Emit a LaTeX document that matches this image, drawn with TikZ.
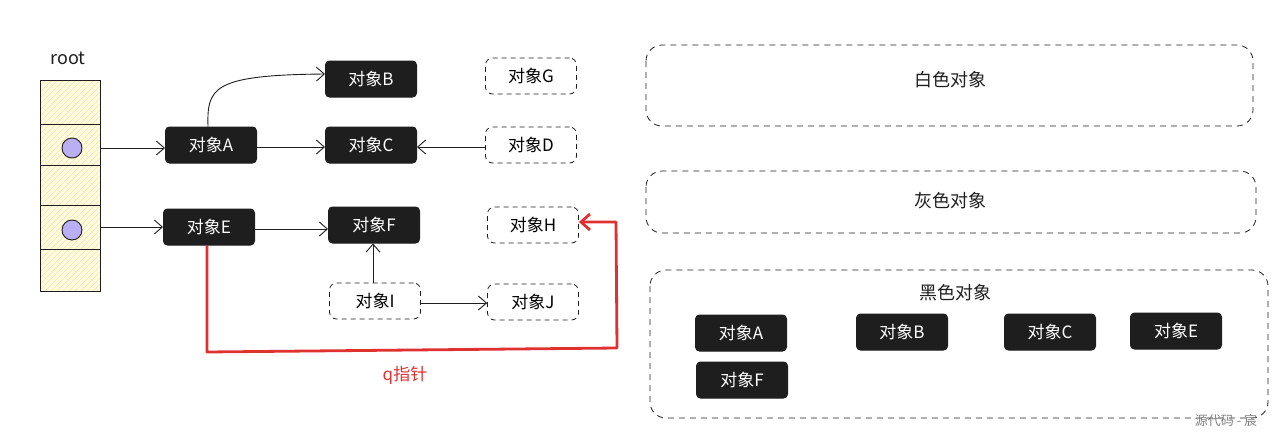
\documentclass[tikz,border=0pt]{standalone}
\usepackage{fontspec}
\setmainfont{Noto Sans CJK SC}
\usetikzlibrary{arrows.meta,patterns}
\definecolor{ink}{HTML}{1E1E1E}
\definecolor{redline}{HTML}{E03131}
\definecolor{rootfill}{HTML}{FFFAE0}
\definecolor{hatch}{HTML}{F8E7A0}
\definecolor{dot}{HTML}{B9AFF2}
\tikzset{
  blk/.style={draw=ink,fill=ink,rounded corners=4pt,text=white,minimum width=91pt,minimum height=36pt,font=\fontsize{17}{17}\selectfont,line width=1pt},
  dsh/.style={draw=ink,dashed,dash pattern=on 5pt off 4pt,rounded corners=7pt,minimum width=91pt,minimum height=36pt,font=\fontsize{17}{17}\selectfont,line width=0.8pt},
  panel/.style={draw=ink,dashed,dash pattern=on 6pt off 5pt,rounded corners=16pt,line width=0.8pt},
  conn/.style={draw=ink,line width=0.9pt,-{Straight Barb[length=8pt,width=14pt]}},
  redc/.style={draw=redline,line width=2.8pt,line join=round,-{Straight Barb[length=9pt,width=16pt]}},
  lbl/.style={font=\fontsize{18}{18}\selectfont,text=ink}
}
\begin{document}
\begin{tikzpicture}[x=1pt,y=-1pt]
\useasboundingbox (0,0) rectangle (1280,439);
% root column
\node[lbl] (rootlbl) at (68,58) {root};
\fill[rootfill] (40,80) rectangle (100,291);
\begin{scope}
\clip (40,80) rectangle (100,291);
\foreach \k in {0,6,...,280}{\draw[hatch,line width=0.6pt] (40,80+\k) -- (100,20+\k);}
\end{scope}
\draw[ink,line width=0.9pt] (40,80) rectangle (100,291);
\foreach \yy in {124,165,205,249}{\draw[ink,line width=0.9pt] (40,\yy) -- (100,\yy);}
\node[circle,draw=ink,fill=dot,minimum size=20pt,inner sep=0pt,line width=0.9pt] (c1) at (72,148) {};
\node[circle,draw=ink,fill=dot,minimum size=20pt,inner sep=0pt,line width=0.9pt] (c2) at (72,230) {};
\coordinate (r1) at (100,148);
\coordinate (r2) at (100,227);
% left objects
\node[blk] (A) at (211,145) {对象A};
\node[blk] (B) at (371,79) {对象B};
\node[blk] (C) at (371,145) {对象C};
\node[dsh] (G) at (531,76) {对象G};
\node[dsh] (D) at (531,145) {对象D};
\node[blk] (E) at (209,227) {对象E};
\node[blk] (F) at (374,225) {对象F};
\node[dsh] (H) at (533,225) {对象H};
\node[dsh] (I) at (375,301) {对象I};
\node[dsh] (J) at (533,302) {对象J};
% connectors
\draw[conn] (r1) -- (A.west|-r1);
\draw[conn] (r2) -- (E.west|-r2);
\draw[conn] (A.north -| 208,0) .. controls (207,88) and (212,75) .. (B.west|-0,74);
\draw[conn] (A.east|-0,147) -- (C.west|-0,147);
\draw[conn] (D.west|-0,147) -- (C.east|-0,147);
\draw[conn] (E.east|-0,229) -- (F.west|-0,229);
\draw[conn] (I.north-|373,0) -- (F.south-|373,0);
\draw[conn] (I.east|-0,303) -- (J.west|-0,303);
\coordinate (q1) at (207,352);
\coordinate (q2) at (617,348);
\coordinate (q3) at (616,222);
\draw[redc] (E.south-|207,0) -- (q1) -- (q2) -- (q3) -- (H.east|-q3);
\node[font=\fontsize{17}{17}\selectfont,text=redline] (qlbl) at (405,375) {q指针};
% right panels
\draw[panel] (646,45) rectangle (1253,126);
\node[lbl] (white) at (950,80) {白色对象};
\draw[panel] (646,171) rectangle (1256,233);
\node[lbl] (gray) at (950,201) {灰色对象};
\draw[panel] (650,270) rectangle (1268,418);
\node[lbl] (black) at (955,293) {黑色对象};
\node[blk] (bA) at (741,333) {对象A};
\node[blk] (bB) at (902,332) {对象B};
\node[blk] (bC) at (1050,332) {对象C};
\node[blk] (bE) at (1176,331) {对象E};
\node[blk] (bF) at (742,380) {对象F};
\node[font=\fontsize{13}{13}\selectfont,text=gray] (wm) at (1226,421) {源代码 - 宸};
\end{tikzpicture}
\end{document}
